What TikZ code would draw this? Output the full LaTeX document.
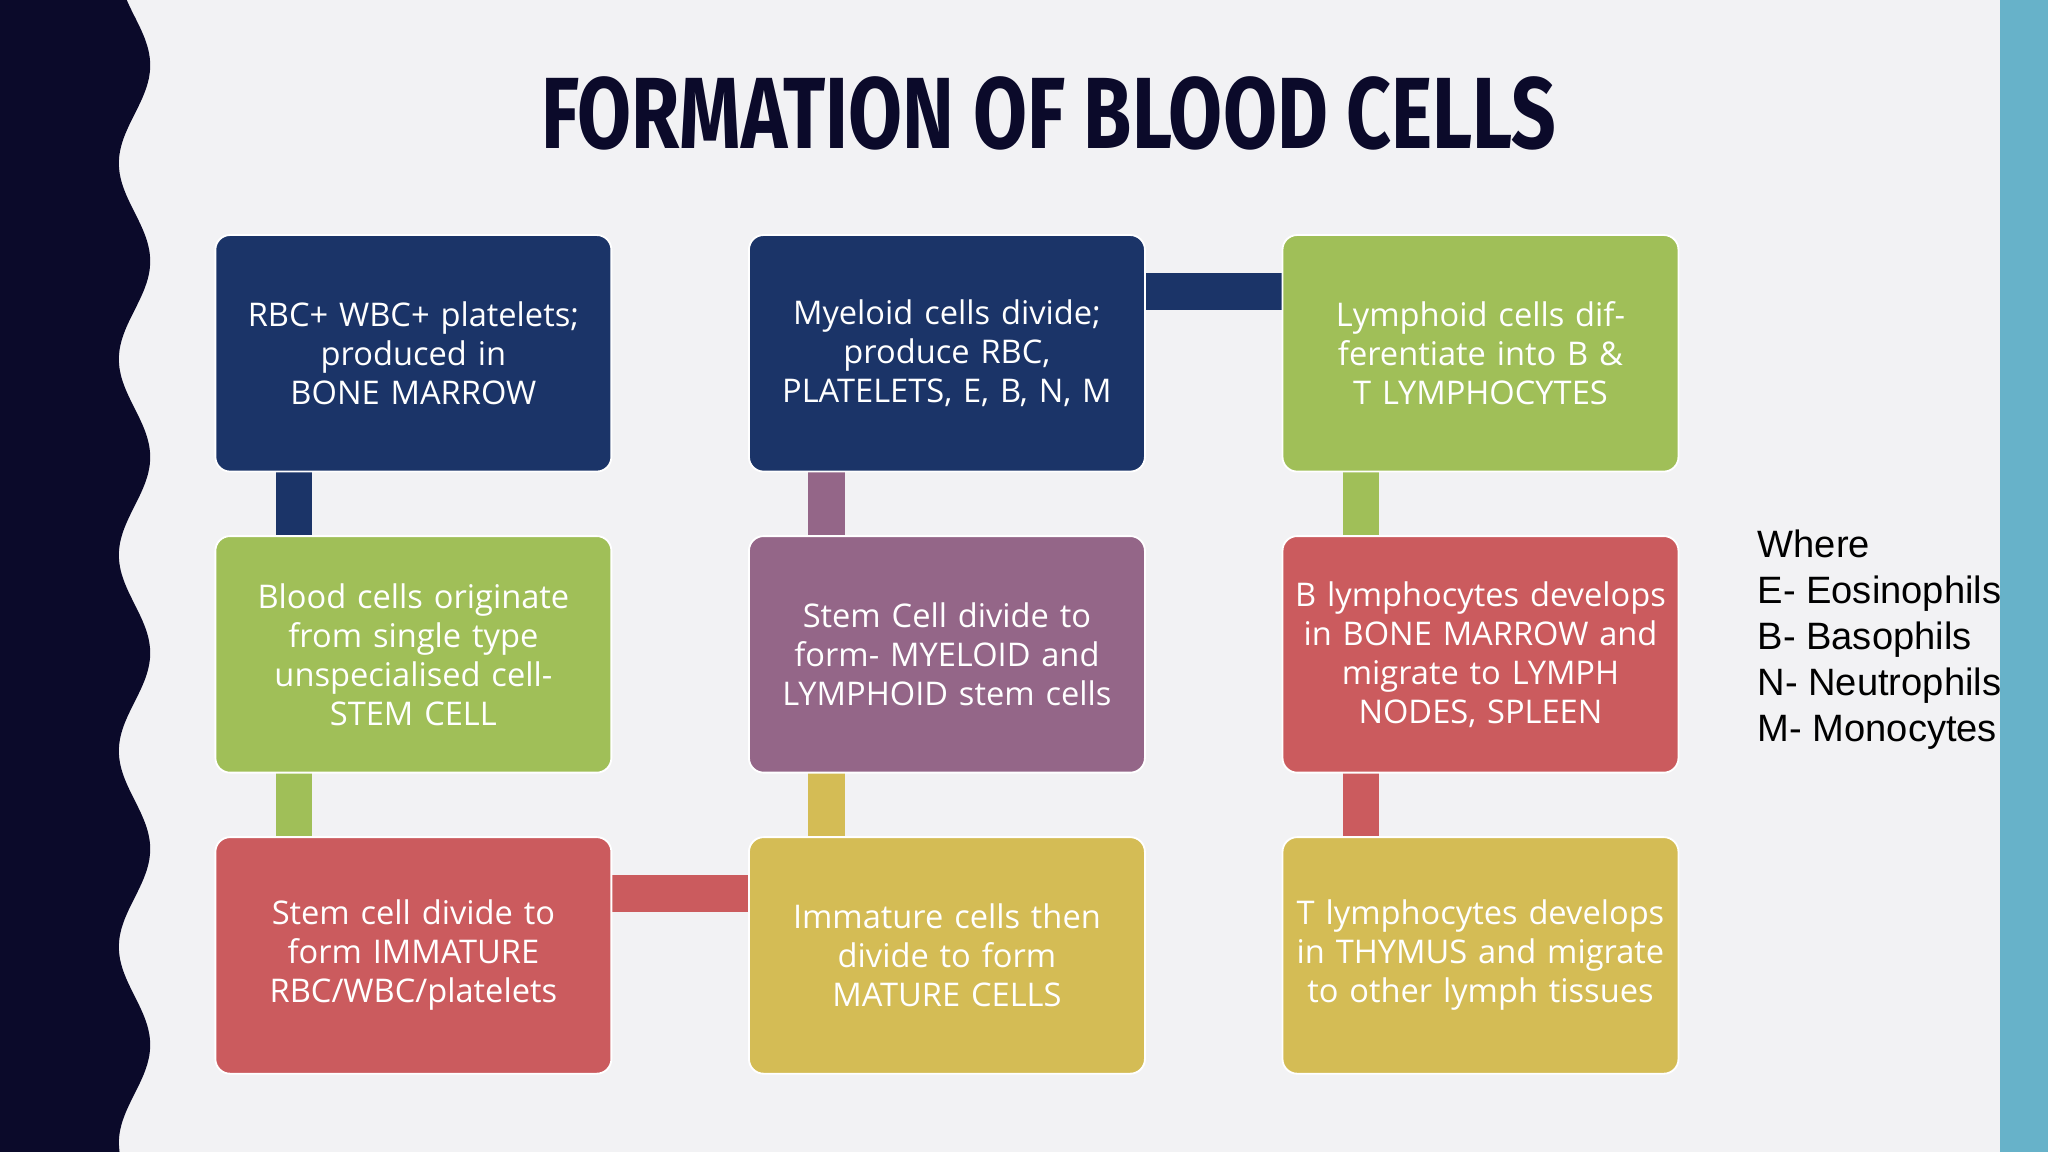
\documentclass[tikz,border=0pt]{standalone}
\usepackage{fontspec}
\setmainfont{Open Sans}
\newfontfamily\arialf{Liberation Sans}
\newfontfamily\titlef{Fira Sans}
\usepackage{graphicx}
\definecolor{bg}{HTML}{F2F2F4}
\definecolor{dark}{HTML}{0B0A2A}
\definecolor{teal}{HTML}{67B2C9}
\definecolor{cnavy}{HTML}{1B3468}
\definecolor{cgreen}{HTML}{A0BF58}
\definecolor{cpurple}{HTML}{946688}
\definecolor{cred}{HTML}{CB5B5E}
\definecolor{cyellow}{HTML}{D4BC55}
\tikzset{
  cell/.style={draw=white, line width=0.4pt, rounded corners=3.2pt, minimum width=3.03cm, minimum height=1.81cm, text width=2.9cm, align=center, text=white, font=\fontsize{7.1}{8.5}\selectfont, inner sep=0pt},
}
\begin{document}
\begin{tikzpicture}[x=0.01cm,y=-0.01cm]
\useasboundingbox (0,0) rectangle (1568,882);
\fill[bg] (0,0) rectangle (1568,882);
\fill[dark] (0,0) -- plot[domain=0:882,samples=120,smooth] ({103+12*sin(\x*2.4 - 30)},\x) -- (0,882) -- cycle;
\fill[teal] (1531,0) rectangle (1568,882);
\node[text=dark, inner sep=0pt] (title) at (803,87) {\resizebox{7.77cm}{0.55cm}{\titlef\bfseries FORMATION OF BLOOD CELLS}};
% connectors
\fill[cnavy] (211,355) rectangle (239,417);
\fill[cgreen] (211,585) rectangle (239,647);
\fill[cred] (462,670) rectangle (579,698);
\fill[cyellow] (619,585) rectangle (647,647);
\fill[cpurple] (619,355) rectangle (647,417);
\fill[cnavy] (871,209) rectangle (988,237);
\fill[cgreen] (1028,355) rectangle (1056,417);
\fill[cred] (1028,585) rectangle (1056,647);
% boxes
\node[cell, fill=cnavy] (a1) at (316.5,270.5) {RBC+ WBC+ platelets; produced in BONE MARROW};
\node[cell, fill=cgreen] (a2) at (316.5,501) {Blood cells originate from single type unspecialised cell-\\STEM CELL};
\node[cell, fill=cred] (a3) at (316.5,731.5) {Stem cell divide to form IMMATURE RBC/WBC/platelets};
\node[cell, fill=cnavy] (b1) at (725,270.5) {Myeloid cells divide;\\produce RBC,\\PLATELETS, E, B, N, M};
\node[cell, fill=cpurple] (b2) at (725,501) {Stem Cell divide to form- MYELOID and LYMPHOID stem cells};
\node[cell, fill=cyellow] (b3) at (725,731.5) {Immature cells then divide to form\\MATURE CELLS};
\node[cell, fill=cgreen] (c1) at (1133.5,270.5) {Lymphoid cells differentiate into B \&\\T LYMPHOCYTES};
\node[cell, fill=cred] (c2) at (1133.5,501) {B lymphocytes develops in BONE MARROW and migrate to LYMPH NODES, SPLEEN};
\node[cell, fill=cyellow] (c3) at (1133.5,731.5) {T lymphocytes develops in THYMUS and migrate to other lymph tissues};
\node[anchor=north west, align=left, inner sep=0pt, font=\arialf\fontsize{8.3}{10}\selectfont] (legend) at (1345,405) {Where\\E- Eosinophils\\B- Basophils\\N- Neutrophils\\M- Monocytes};
\end{tikzpicture}
\end{document}
